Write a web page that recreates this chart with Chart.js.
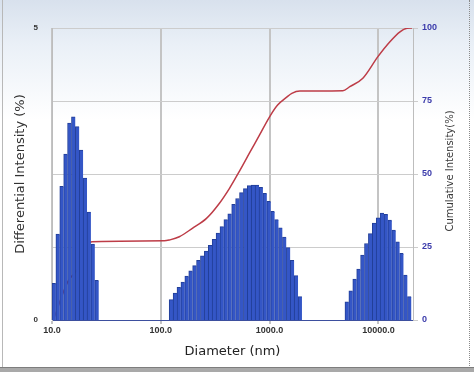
<!DOCTYPE html>
<html>
<head>
<meta charset="utf-8">
<script src="https://cdn.jsdelivr.net/npm/chart.js@4"></script>
<style>
  html, body { margin: 0; padding: 0; }
  body {
    width: 474px; height: 372px; overflow: hidden;
    background: linear-gradient(to bottom, #d8e1ed 0px, #eaf0f7 45px, #ffffff 120px);
  }
  #wrap { position: relative; width: 474px; height: 372px; }
  #frameLeft { position: absolute; left: 2px; top: 0; width: 1px; height: 368px; background: #b8b8b8; }
  #frameRight { position: absolute; left: 469px; top: 0; width: 0; height: 368px; border-left: 1px dotted #8a8a8a; }
  #frameBottom { position: absolute; left: 0; top: 367px; width: 474px; height: 5px; background: #a9a9a9; border-top: 1px solid #7d7d7d; }
</style>
</head>
<body>
<div id="wrap">
  <canvas id="psdChart" width="474" height="372"></canvas>
  <div id="frameLeft"></div>
  <div id="frameRight"></div>
  <div id="frameBottom"></div>
</div>
<script>
// size bins (nm) and differential intensity (%) of the three peaks
var diameters = [
  10.42, 11.31, 12.28, 13.34, 14.48, 15.73, 17.08, 18.55, 20.14, 21.87, 23.75, 25.79,
  124.4, 135.2, 146.8, 159.5, 173.2, 188.2, 204.4, 222.0, 241.1, 261.9,
  284.5, 309.0, 335.6, 364.5, 395.9, 430.0, 467.1, 507.4, 551.1, 598.6,
  650.2, 706.2, 767.1, 833.2, 905.0, 982.8, 1067.5, 1159.5, 1259.4, 1367.9,
  1485.8, 1613.8, 1752.9, 1904.0,
  5133, 5576, 6057, 6579, 7146, 7762, 8431, 9158, 9946,
  10804, 11735, 12747, 13846, 15040, 16336, 17744, 19274
];
var differential = [
  0.63, 1.47, 2.29, 2.84, 3.37, 3.48, 3.31, 2.91, 2.43, 1.85, 1.30, 0.68,
  0.35, 0.46, 0.56, 0.65, 0.75, 0.84, 0.93, 1.02, 1.10, 1.18,
  1.28, 1.38, 1.49, 1.60, 1.72, 1.82, 1.98, 2.08, 2.18, 2.25,
  2.30, 2.31, 2.31, 2.27, 2.17, 2.03, 1.86, 1.72, 1.58, 1.42,
  1.24, 1.02, 0.76, 0.40,
  0.31, 0.50, 0.70, 0.87, 1.11, 1.31, 1.48, 1.66, 1.75,
  1.83, 1.81, 1.71, 1.54, 1.34, 1.14, 0.77, 0.40
];

// cumulative intensity curve (%), runs behind the bars
var cumDiameters = [10.4, 13.9, 17.5, 21.0, 23.4, 108, 120, 148, 195, 263, 346, 428, 529, 654, 809,
  1000, 1185, 1435, 1600, 1900, 4708, 5462, 7196, 9900, 12760, 15790, 18310, 20360];
var cumulative = [0.5, 13.0, 18.0, 25.7, 26.8, 27.1, 27.4, 28.5, 31.4, 34.8, 40.0, 45.1, 51.0, 57.2, 63.4,
  69.6, 73.6, 76.3, 77.6, 78.4, 78.5, 79.9, 82.8, 90.2, 95.3, 98.7, 99.9, 100];

var xTicks = [10, 100, 1000, 10000];
var xTickLabels = ['10.0', '100.0', '1000.0', '10000.0'];
var leftTicks = [0, 5];
var rightTicks = [0, 25, 50, 75, 100];

var barPoints = diameters.map(function (d, i) { return { x: d, y: differential[i] }; });
var linePoints = cumDiameters.map(function (d, i) { return { x: d, y: cumulative[i] }; });

// right axis title reads bottom-to-top, so draw it ourselves
var rightTitle = {
  id: 'rightTitle',
  afterDraw: function (chart) {
    var ctx = chart.ctx;
    var area = chart.chartArea;
    ctx.save();
    ctx.translate(450, (area.top + area.bottom) / 2 - 3);
    ctx.rotate(-Math.PI / 2);
    ctx.font = '10px "DejaVu Sans"';
    ctx.fillStyle = '#3a3a3a';
    ctx.textAlign = 'center';
    ctx.textBaseline = 'middle';
    ctx.fillText('Cumulative Intensity(%)', 0, 0);
    ctx.restore();
  }
};

var ctx = document.getElementById('psdChart').getContext('2d');
var psdChart = new Chart(ctx, {
  type: 'bar',
  data: {
    datasets: [
      {
        type: 'bar',
        data: barPoints,
        xAxisID: 'x',
        yAxisID: 'y',
        backgroundColor: '#3456c6',
        borderColor: '#223f98',
        borderWidth: { left: 1, right: 0, top: 1, bottom: 0 },
        borderSkipped: false,
        barPercentage: 1,
        categoryPercentage: 1,
        order: 1,
      },
      {
        type: 'line',
        data: linePoints,
        xAxisID: 'x',
        yAxisID: 'y2',
        borderColor: '#bd3c47',
        borderWidth: 1.5,
        pointRadius: 0,
        cubicInterpolationMode: 'monotone',
        fill: false,
        order: 2,
      },
    ],
  },
  options: {
    responsive: false,
    animation: false,
    layout: { padding: { top: 28, left: 0, right: 0, bottom: 0 } },
    plugins: { legend: { display: false }, tooltip: { enabled: false } },
    scales: {
      x: {
        type: 'logarithmic',
        position: 'bottom',
        min: 10,
        max: 20800,
        offset: false,
        afterBuildTicks: function (scale) {
          scale.ticks = xTicks.map(function (v) { return { value: v }; });
        },
        afterFit: function (scale) { scale.height = 52; },
        ticks: {
          autoSkip: false,
          maxRotation: 0,
          padding: 1,
          color: '#333333',
          font: { family: 'Liberation Sans', size: 9, weight: 'bold' },
          callback: function (value) {
            var i = xTicks.indexOf(value);
            return i >= 0 ? xTickLabels[i] : '';
          },
        },
        grid: {
          offset: false,
          color: '#c4c4c4',
          lineWidth: 2,
          tickLength: 4,
          tickColor: '#c4c4c4',
        },
        border: { color: '#3d4f9e', width: 1 },
        title: {
          display: true,
          text: 'Diameter (nm)',
          color: '#222222',
          font: { family: 'DejaVu Sans', size: 13 },
          padding: { top: 0, bottom: 13 },
        },
      },
      y: {
        position: 'left',
        min: 0,
        max: 5,
        afterBuildTicks: function (scale) {
          scale.ticks = leftTicks.map(function (v) { return { value: v }; });
        },
        afterFit: function (scale) { scale.width = 52; },
        ticks: {
          padding: 6,
          color: '#333333',
          font: { family: 'Liberation Sans', size: 8, weight: 'bold' },
        },
        grid: { display: false },
        border: { color: '#bdbdbd', width: 1 },
        title: {
          display: true,
          text: 'Differential Intensity (%)',
          color: '#333333',
          font: { family: 'DejaVu Sans', size: 13 },
          padding: { top: 13, bottom: 0 },
        },
      },
      y2: {
        position: 'right',
        min: 0,
        max: 100,
        afterBuildTicks: function (scale) {
          scale.ticks = rightTicks.map(function (v) { return { value: v }; });
        },
        afterFit: function (scale) { scale.width = 61; },
        ticks: {
          padding: 4,
          color: '#3b3bab',
          font: { family: 'Liberation Sans', size: 9, weight: 'bold' },
        },
        grid: {
          color: '#cccccc',
          lineWidth: 1,
          tickLength: 5,
          drawOnChartArea: true,
        },
        border: { color: '#bdbdbd', width: 1 },
      },
    },
  },
  plugins: [rightTitle],
});
</script>
</body>
</html>
